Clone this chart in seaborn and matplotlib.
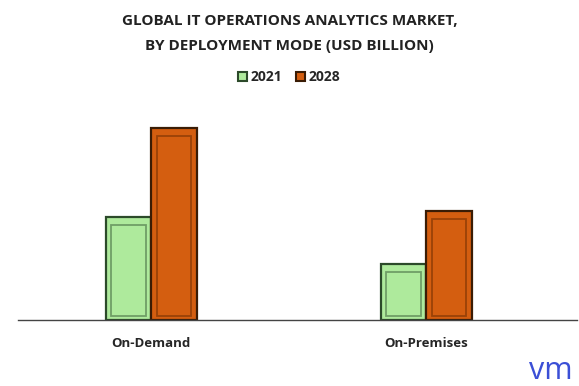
import matplotlib
matplotlib.use("Agg")
import matplotlib.pyplot as plt
import matplotlib.patches as mpatches
import seaborn as sns
import pandas as pd

modes = ["On-Demand", "On-Premises"]
years = ["2021", "2028"]
val_2021 = [5.3, 2.9]
val_2028 = [9.9, 5.6]

df = pd.DataFrame({
    "mode": modes * 2,
    "year": [years[0]] * 2 + [years[1]] * 2,
    "value": val_2021 + val_2028,
})

face = {"2021": "#aeea9c", "2028": "#d45e10"}
edge = {"2021": "#2c4a2a", "2028": "#3a1c05"}
inner = {"2021": "#6f9e66", "2028": "#9a4208"}

sns.set_style("white")
plt.rcParams["font.family"] = ["Open Sans", "DejaVu Sans"]

fig = plt.figure(figsize=(5.79, 3.86), dpi=100)
ax = fig.add_axes([0.031, 0.171, 0.966, 0.544])

sns.barplot(data=df, x="mode", y="value", hue="year", palette=face,
            width=0.33, dodge=True, ax=ax, legend=False, saturation=1)

for container, yr in zip(ax.containers, years):
    for p in container:
        p.set_edgecolor(edge[yr])
        p.set_linewidth(1.6)
        # inner bevel outline
        x0, y0 = p.get_x(), p.get_y()
        w, h = p.get_width(), p.get_height()
        ax.add_patch(mpatches.Rectangle((x0 + w * 0.12, y0 + 0.2),
                                        w * 0.76, h - 0.6,
                                        fill=False, edgecolor=inner[yr], lw=1.3))

ax.set_xlim(-0.484, 1.549)
ax.set_ylim(0, 10.83)
ax.set_xlabel("")
ax.set_ylabel("")
ax.set_yticks([])
ax.tick_params(axis="x", length=0, pad=12, labelsize=9.5)
for lab in ax.get_xticklabels():
    lab.set_fontweight("bold")
sns.despine(ax=ax, left=True)
ax.spines["bottom"].set_color("#444444")
ax.spines["bottom"].set_linewidth(1.0)

handles = [mpatches.Patch(facecolor=face[y], edgecolor=edge[y], lw=1.5, label=y)
           for y in years]
fig.legend(handles=handles, loc="center", bbox_to_anchor=(0.5, 0.80), ncol=2,
           frameon=False, handlelength=0.6, handleheight=0.6, handletextpad=0.3,
           columnspacing=1.0, prop={"weight": "bold", "size": 10})

fig.text(0.5, 0.945, "GLOBAL IT OPERATIONS ANALYTICS MARKET,", ha="center",
         va="center", fontsize=11, fontweight="bold", color="#222222")
fig.text(0.5, 0.882, "BY DEPLOYMENT MODE (USD BILLION)", ha="center",
         va="center", fontsize=11, fontweight="bold", color="#222222")
fig.text(0.952, 0.04, "vm", ha="center", va="center", fontsize=22,
         color="#3b4fd6")

fig.savefig("out.png", dpi=100)
